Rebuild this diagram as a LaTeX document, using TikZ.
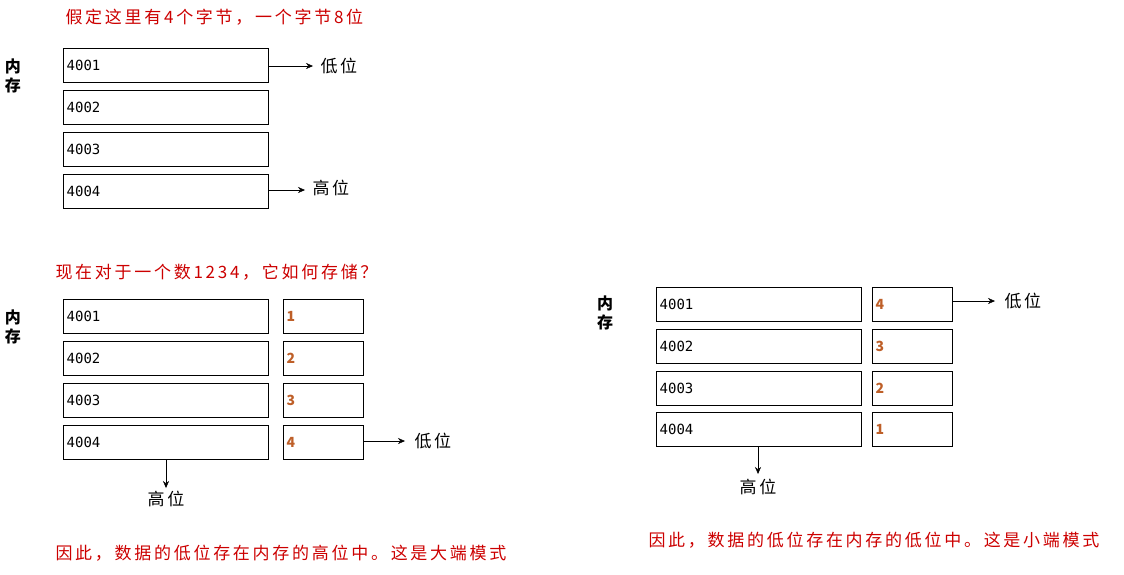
\documentclass[tikz,border=0pt]{standalone}
\usepackage{fontspec}
\setmainfont{Noto Sans CJK SC}
\newfontfamily\monofont{DejaVu Sans Mono}
\newfontfamily\spacedfont[LetterSpace=16]{Noto Sans CJK SC}
\usetikzlibrary{positioning,arrows.meta}
\definecolor{redtext}{RGB}{204,0,0}
\definecolor{digit}{RGB}{190,95,40}

\tikzset{
  cell/.style={draw, minimum width=205pt, minimum height=34pt, inner sep=3pt,
    anchor=north west, text width=198pt, align=left, font=\monofont\fontsize{14}{14}\selectfont},
  byte/.style={draw, minimum width=80pt, minimum height=34pt, inner sep=3pt,
    anchor=north west, text width=73pt, align=left, font=\bfseries\fontsize{14}{14}\selectfont, text=digit},
  note/.style={text=redtext, font=\spacedfont\fontsize{17}{17}\selectfont, anchor=west},
  tag/.style={font=\spacedfont\fontsize{17}{17}\selectfont},
  mem/.style={font=\bfseries\fontsize{16}{19}\selectfont, align=center},
  ptr/.style={-{Stealth[length=7pt,width=6pt]}}
}

\begin{document}
\begin{tikzpicture}[x=1pt, y=-1pt]
\useasboundingbox (0,0) rectangle (1124,574);

% top: four bytes
\node[note] (title) at (62,17) {假定这里有4个字节，一个字节8位};
\node[mem] (memA) at (13,76) {内\\存};
\foreach \i/\y in {1/48,2/90,3/132,4/174}
  \node[cell] (a\i) at (63,\y) {400\i};
\coordinate (a1end) at (313,66);
\coordinate (a4end) at (305,190);
\draw[ptr] (a1.east |- a1end) -- (a1end);
\draw[ptr] (a4.east |- a4end) -- (a4end);
\node[tag, right=4pt of a1end] (lowA) {低位};
\node[tag, right=4pt of a4end, yshift=2pt] (highA) {高位};

% bottom left: big endian
\node[note] (question) at (52,272) {现在对于一个数1234，它如何存储？};
\node[mem] (memB) at (13,327) {内\\存};
\foreach \i/\y in {1/299,2/341,3/383,4/425} {
  \node[cell] (b\i) at (63,\y) {400\i};
  \node[byte] (c\i) at (283,\y) {\i};
}
\coordinate (c4end) at (405,441);
\draw[ptr] (c4.east |- c4end) -- (c4end);
\node[tag, right=6pt of c4end] (lowB) {低位};
\coordinate (b4down) at (166,488);
\draw[ptr] (b4.south -| b4down) -- (b4down);
\node[tag, below=0pt of b4down] (highB) {高位};
\node[note] (bigend) at (52,553) {因此，数据的低位存在内存的高位中。这是大端模式};

% bottom right: little endian
\node[mem] (memC) at (605,313) {内\\存};
\foreach \i/\y/\d in {1/287/4,2/329/3,3/371/2,4/412/1} {
  \node[cell] (d\i) at (656,\y) {400\i};
  \node[byte] (e\i) at (872,\y) {\d};
}
\coordinate (e1end) at (995,301);
\draw[ptr] (e1.east |- e1end) -- (e1end);
\node[tag, right=6pt of e1end] (lowC) {低位};
\coordinate (d4down) at (758,474);
\draw[ptr] (d4.south -| d4down) -- (d4down);
\node[tag, below=2pt of d4down] (highC) {高位};
\node[note] (littleend) at (645,540) {因此，数据的低位存在内存的低位中。这是小端模式};
\end{tikzpicture}
\end{document}
